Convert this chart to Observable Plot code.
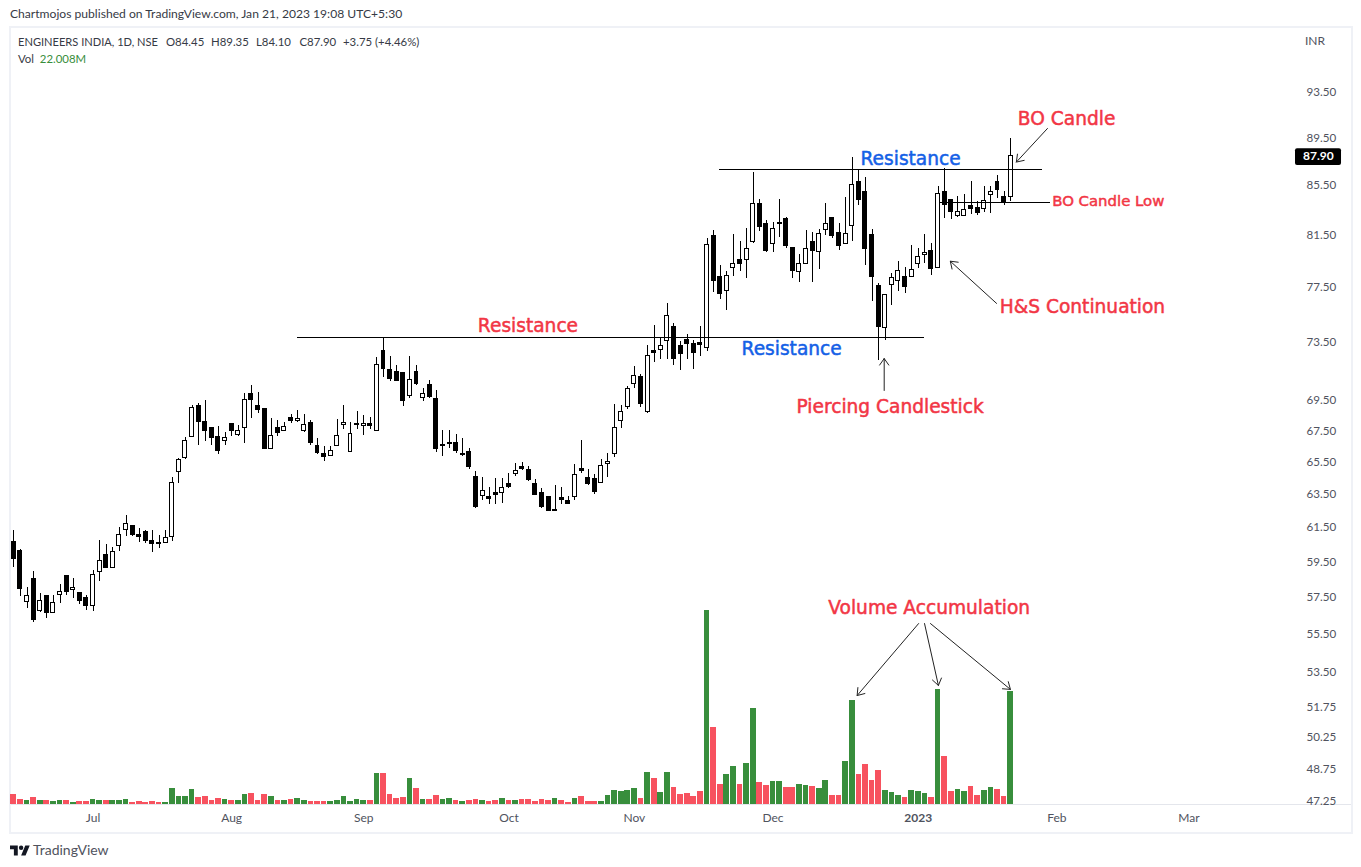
<!DOCTYPE html>
<html><head><meta charset="utf-8">
<script src="https://cdn.jsdelivr.net/npm/d3@7"></script>
<script src="https://cdn.jsdelivr.net/npm/@observablehq/plot@0.6"></script>
<style>
html,body{margin:0;padding:0;background:#fff;width:1361px;height:867px;overflow:hidden}
#stage{position:relative;width:1361px;height:867px}
#stage svg.plot{position:absolute;left:0;top:0;background:transparent}
.pane{position:absolute;left:9px;top:26px;width:1340px;height:804px;border:2px solid #eff1f6;box-sizing:content-box}
.sep{position:absolute;left:11px;top:804px;width:1340px;height:1px;background:#e4e6ec}
.t{position:absolute;font-family:"Lato",sans-serif;white-space:pre;color:#363a45}
.h{font-size:11.4px;top:35px}
#logo{position:absolute;left:10px;top:843px}
</style></head><body>
<div id="stage">
  <div class="pane"></div><div class="sep"></div>
  <div class="t" style="left:10px;top:6px;font-size:12.12px">Chartmojos published on TradingView.com, Jan 21, 2023 19:08 UTC+5:30</div>
  <div class="t h" style="left:18px;font-size:11.1px">ENGINEERS INDIA, 1D, NSE</div>
  <div class="t h" style="left:166px">O84.45</div>
  <div class="t h" style="left:211px">H89.35</div>
  <div class="t h" style="left:256px">L84.10</div>
  <div class="t h" style="left:299.5px">C87.90</div>
  <div class="t h" style="left:343px">+3.75 (+4.46%)</div>
  <div class="t" style="left:18px;top:52px;font-size:11.4px">Vol  <span style="color:#388e3c">22.008M</span></div>
  <div class="t" style="left:1305px;top:33px;font-size:12px;color:#50535e">INR</div>
  <svg id="logo" width="20" height="16" viewBox="0 0 36 28"><path fill="#131722" d="M14 22H7V11H0V4h14v18zM28 22h-8l7.5-18h8L28 22z"/><circle fill="#131722" cx="20" cy="8" r="4"/></svg>
  <div class="t" style="left:33px;top:841px;font-size:14px;color:#50535e">TradingView</div>
</div>
<script>
const highs=[61.25,60.15,58.0,58.9,57.65,57.5,57.55,58.15,58.65,58.5,
57.7,57.55,58.95,60.7,60.45,60.3,61.45,62.15,61.55,61.4,
61.25,61.25,61.0,61.25,64.45,65.65,67.0,69.1,69.25,69.45,
67.65,67.75,67.35,67.9,67.8,69.9,70.45,70.0,68.9,68.25,
68.1,67.95,68.5,68.8,68.5,68.1,66.95,66.45,66.45,68.2,
69.1,67.95,68.7,68.45,68.3,72.35,73.75,72.45,71.8,71.3,
72.45,71.8,70.25,70.8,70.1,67.45,67.45,67.2,66.95,66.3,
64.85,64.5,63.85,64.4,64.4,64.7,65.35,65.4,65.15,64.35,
63.8,63.3,64.0,63.85,63.3,65.3,66.8,65.0,64.65,65.6,
66.0,69.15,69.1,70.4,71.75,71.2,73.2,74.6,73.75,76.25,
74.75,73.5,74.0,73.6,74.55,81.15,81.8,79.05,78.6,81.45,
80.9,81.9,86.5,84.25,82.6,82.4,84.25,82.8,80.45,79.95,
81.75,81.6,81.85,83.9,82.85,82.3,84.4,87.7,86.65,86.1,
81.85,77.7,76.85,78.45,79.35,78.9,80.6,80.35,81.45,80.8,
85.3,86.8,84.25,84.5,84.7,85.75,84.1,85.3,85.3,86.2,
84.9,89.35];
const lows=[59.1,57.5,56.85,56.05,56.6,56.3,56.6,57.1,57.55,57.4,
57.05,56.75,56.65,58.35,59.1,59.1,60.05,60.9,60.9,60.55,
60.5,60.0,60.2,60.55,60.6,64.1,65.6,67.05,66.5,66.75,
66.5,65.9,66.5,67.1,67.05,66.6,68.25,68.55,66.3,66.3,
67.05,67.4,67.9,67.95,67.35,66.5,65.95,65.45,65.8,66.4,
67.5,66.1,67.5,67.15,67.5,67.45,71.0,70.75,70.7,69.05,
69.55,70.45,69.35,69.55,66.05,65.8,66.3,66.0,65.8,65.0,
62.6,63.05,62.8,62.8,62.9,63.8,64.55,64.9,64.2,63.4,
62.6,62.45,62.45,62.8,62.8,63.05,64.7,64.0,63.4,64.15,
64.45,65.75,67.6,68.85,70.25,69.0,68.6,72.0,72.25,72.25,
71.85,71.45,72.25,71.55,72.45,72.8,77.05,76.55,75.75,78.25,
78.65,78.1,80.75,81.7,80.1,80.1,81.25,80.4,78.1,77.8,
79.2,77.8,78.8,81.4,81.15,80.25,80.75,80.95,83.75,79.1,
76.4,72.15,73.6,76.1,77.15,77.0,78.2,78.85,79.2,78.35,
78.9,82.7,82.65,82.8,82.95,83.05,82.95,83.2,83.1,84.3,
83.75,84.1];
const opens=[60.6,60.05,57.2,58.5,56.7,57.5,56.6,57.6,58.65,57.85,
57.7,57.4,57.0,58.85,59.85,59.1,60.35,61.3,61.55,61.0,
61.2,60.65,60.55,60.55,60.9,64.8,65.7,67.05,69.05,68.0,
67.65,67.05,66.75,67.9,67.15,67.6,69.9,69.1,68.9,66.3,
67.65,67.4,68.25,68.1,67.45,67.95,66.45,65.95,65.8,66.45,
67.85,66.1,67.85,67.75,67.9,67.45,72.85,71.5,71.4,71.3,
69.75,71.4,69.6,70.5,69.55,66.45,66.6,66.65,65.9,66.1,
64.5,63.35,63.3,63.55,63.5,64.1,64.7,65.15,64.95,64.1,
63.55,63.3,62.45,63.2,63.05,63.25,65.0,64.45,64.4,64.15,
65.35,65.95,68.05,69.0,70.55,71.0,68.7,72.85,72.9,73.5,
74.5,73.15,73.6,73.35,73.4,73.05,81.35,78.2,77.15,78.9,
79.5,79.5,80.9,83.9,82.3,80.75,82.3,82.7,80.45,78.55,
79.2,80.9,80.1,81.85,82.8,81.6,80.75,82.15,85.7,84.9,
81.45,77.55,74.45,77.6,77.9,78.2,78.2,79.2,79.9,80.2,
78.9,84.85,84.25,82.95,82.95,83.7,83.6,83.5,84.65,85.65,
84.5,84.45];
const closes=[59.6,57.9,57.5,56.2,57.25,56.6,57.15,57.75,57.75,57.95,
57.25,56.95,58.7,59.5,59.1,60.0,61.0,61.65,61.0,60.9,
60.65,60.45,60.45,60.8,64.15,65.6,66.8,68.95,68.0,67.45,
66.95,66.15,67.0,67.4,67.45,69.5,69.45,68.8,66.3,67.1,
67.3,67.7,68.05,68.2,67.85,66.65,66.0,65.75,66.15,67.1,
67.95,67.25,67.9,67.9,67.75,71.85,71.55,70.9,70.75,69.4,
70.85,70.55,69.85,69.65,66.3,66.55,66.65,66.15,65.95,65.1,
62.7,63.65,63.15,63.4,63.85,63.9,64.9,65.0,64.35,63.4,
62.7,62.45,62.5,63.1,62.85,64.65,64.85,64.1,63.6,65.2,
65.45,67.65,68.7,70.2,71.1,69.2,72.45,72.7,73.15,75.35,
72.25,72.6,73.35,72.7,73.25,80.65,77.9,76.95,78.3,79.2,
79.2,80.35,83.9,82.05,80.15,81.9,82.35,80.55,78.65,79.2,
80.35,80.15,81.5,82.3,81.35,80.55,81.5,85.45,84.2,80.3,
78.2,74.5,76.85,78.15,78.65,77.45,78.75,79.75,80.05,78.8,
84.7,83.85,83.25,83.25,83.45,83.5,83.2,84.1,84.9,85.05,
84.0,87.9];
const volumes=[1.95,.97,.78,1.36,.78,.78,.58,.78,.78,.39,.58,.58,.97,.78,.78,.78,.78,.97,.39,.58,
.39,.58,.39,.39,3.12,1.56,1.56,2.92,1.36,1.56,.78,1.17,.97,.78,.78,1.95,2.14,.78,1.95,1.56,
.78,.78,.97,1.17,.78,.58,.58,.58,.58,.78,1.56,.58,
.97,.78,.78,6.04,6.04,1.95,1.17,1.36,5.06,3.12,.97,.97,1.75,.97,1.17,.78,.58,.78,
.97,.78,.58,.78,1.17,.78,.78,.97,.97,.58,.97,.78,1.17,.78,.39,1.17,1.56,.58,.58,.58,
1.75,2.73,2.53,2.73,3.12,1.17,6.23,5.06,2.34,6.23,3.31,1.95,
2.14,1.56,2.53,37.8,15.0,3.9,5.84,7.4,3.9,7.99,18.7,4.29,3.7,4.48,4.48,3.31,3.31,3.9,3.7,3.51,
3.12,4.68,1.75,1.75,8.38,20.26,5.84,7.79,4.68,6.62,2.73,2.34,1.75,1.36,2.73,2.53,2.14,1.36,
22.4,9.35,2.53,2.92,2.53,3.51,1.75,2.73,3.31,2.92,1.56,22.008];

const priceTicks=[47.25,48.75,50.25,51.75,53.5,55.5,57.5,59.5,61.5,63.5,65.5,67.5,69.5,73.5,77.5,81.5,85.5,89.5,93.5];
const monthTicks=[12,33,53,75,94,115,158,178];
const monthLabels=["Jul","Aug","Sep","Oct","Nov","Dec","Feb","Mar"];
const yearTicks=[137];
const yearLabels=["2023"];

const idx=highs.map((_,i)=>i);
const candles=idx.map(i=>({i,o:opens[i],h:highs[i],l:lows[i],c:closes[i],v:volumes[i],up:closes[i]>=opens[i]}));

const levels=[
 {x1:42.95,x2:137.95,y:73.78},
 {x1:106.9,x2:155.76,y:86.7},
 {x1:140.35,x2:156.97,y:84.0}
];
const arrows=[
 {x1:156.57,y1:90.22,x2:151.86,y2:87.35},
 {x1:148.86,y1:76.24,x2:141.85,y2:79.40},
 {x1:131.84,y1:70.11,x2:131.84,y2:72.30},
 {x1:137.05,y1:56.02,x2:127.74,y2:52.27},
 {x1:137.95,y1:56.02,x2:140.05,y2:52.78},
 {x1:138.85,y1:56.02,x2:150.96,y2:52.58}
];
const red="#f23645", blue="#1460e6";
const bigLabels=[
 {x:77.88,y:74.64,t:"Resistance",c:red},
 {x:117.82,y:73.0,t:"Resistance",c:blue},
 {x:135.84,y:87.73,t:"Resistance",c:blue},
 {x:159.47,y:91.09,t:"BO Candle",c:red},
 {x:161.87,y:76.02,t:"H&S Continuation",c:red},
 {x:132.74,y:69.10,t:"Piercing Candlestick",c:red},
 {x:138.65,y:56.89,t:"Volume Accumulation",c:red}
];
const smallLabels=[{x:165.78,y:84.18,t:"BO Candle Low",c:red}];

const xDomain=[-0.348,194.14];
const W=1361,H=867;
const uiFont='"Lato",sans-serif', noteFont='"DejaVu Sans",sans-serif';

const volChart=Plot.plot({
  width:W,height:H,marginLeft:11,marginRight:66,marginTop:27,marginBottom:63,
  x:{domain:xDomain,axis:null},
  y:{domain:[0,151.4],axis:null},
  marks:[
    Plot.rectY(candles,{x1:d=>d.i-0.43,x2:d=>d.i+0.43,y:"v",fill:d=>d.up?"#388e3c":"#f7525f",shapeRendering:"crispEdges"})
  ]
});

const priceChart=Plot.plot({
  width:W,height:H,marginLeft:11,marginRight:66,marginTop:27,marginBottom:62,
  x:{domain:xDomain,label:null},
  y:{type:"log",domain:[47.02,99.43],label:null},
  marks:[
    Plot.axisY(priceTicks,{anchor:"right",tickSize:0,tickPadding:11,label:null,tickFormat:d=>d.toFixed(2),fontFamily:uiFont,fontSize:11.6,dy:1,fill:"#50535e"}),
    Plot.axisX(monthTicks,{anchor:"bottom",tickSize:0,tickPadding:8,label:null,tickFormat:d=>monthLabels[monthTicks.indexOf(d)],fontFamily:uiFont,fontSize:12,fill:"#50535e"}),
    Plot.axisX(yearTicks,{anchor:"bottom",tickSize:0,tickPadding:8,label:null,tickFormat:d=>yearLabels[yearTicks.indexOf(d)],fontFamily:uiFont,fontSize:12,fontWeight:"bold",fill:"#50535e"}),
    Plot.ruleX(candles,{x:"i",y1:"l",y2:"h",stroke:"#000",strokeWidth:1,shapeRendering:"crispEdges"}),
    Plot.rect(candles,{x1:d=>d.i-0.3,x2:d=>d.i+0.3,y1:"o",y2:"c",fill:d=>d.up?"#fff":"#000",stroke:"#000",strokeWidth:1,shapeRendering:"crispEdges"}),
    Plot.ruleY(levels,{x1:"x1",x2:"x2",y:"y",stroke:"#000",strokeWidth:1,shapeRendering:"crispEdges"}),
    Plot.arrow(arrows,{x1:"x1",y1:"y1",x2:"x2",y2:"y2",stroke:"#222",strokeWidth:1,bend:0,headLength:12,headAngle:70}),
    Plot.text(bigLabels,{x:"x",y:"y",text:"t",fill:"c",stroke:"c",strokeWidth:0.5,fontFamily:noteFont,fontSize:18.6,lineAnchor:"middle",dy:1}),
    Plot.text(smallLabels,{x:"x",y:"y",text:"t",fill:"c",stroke:"c",strokeWidth:0.5,fontFamily:noteFont,fontSize:14.9,lineAnchor:"middle",dy:1}),
    Plot.rect([{x1:194.14,x2:201.11,y1:87.06,y2:88.47}],{x1:"x1",x2:"x2",y1:"y1",y2:"y2",fill:"#000",rx:2}),
    Plot.text([{x:197.6,y:closes[closes.length-1]}],{x:"x",y:"y",text:d=>d.y.toFixed(2),fill:"#fff",fontFamily:uiFont,fontSize:12,fontWeight:"bold",lineAnchor:"middle",dy:1})
  ]
});
const stage=document.getElementById("stage");
volChart.classList.add("plot");priceChart.classList.add("plot");
stage.appendChild(volChart);stage.appendChild(priceChart);
</script>
</body></html>
